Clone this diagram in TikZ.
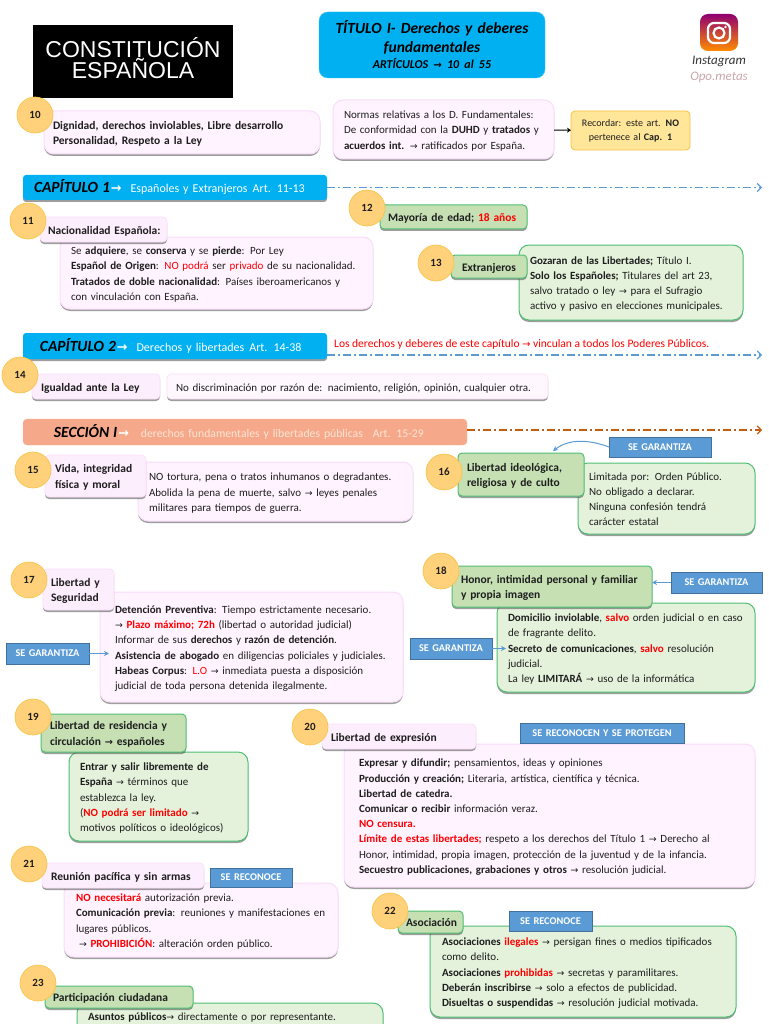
\documentclass[tikz,border=0pt]{standalone}
\usepackage{fontspec}
\setmainfont{Carlito}
\newfontfamily\arfont[Scale=0.85]{DejaVu Sans}
\newfontfamily\headfont{Liberation Sans}
\usetikzlibrary{shadows,arrows.meta,calc}
\definecolor{cyanbox}{HTML}{00B0F0}
\definecolor{pinkfill}{HTML}{FFF3FF}
\definecolor{pinkhead}{HTML}{FDEEFD}
\definecolor{pinkedge}{HTML}{F9DDF9}
\definecolor{greenfill}{HTML}{E4F1DB}
\definecolor{greenhead}{HTML}{C6E0B4}
\definecolor{greenedge}{HTML}{4FBF73}
\definecolor{goldfill}{HTML}{FFE699}
\definecolor{goldedge}{HTML}{F5C242}
\definecolor{seblue}{HTML}{5B9BD5}
\definecolor{seedge}{HTML}{41719C}
\definecolor{salmon}{HTML}{F6A98A}
\definecolor{lineblue}{HTML}{5B9BD5}
\definecolor{lineorange}{HTML}{C55A11}
\definecolor{ink}{HTML}{1E1E1E}
\definecolor{pale}{HTML}{FCE4D6}
\definecolor{opocolor}{HTML}{C9A5AE}
\newcommand\ar{{\arfont →}}
\newcommand\bigar{{\fontsize{15}{16}\selectfont\bfseries\arfont\textcolor{white}{→}}}
\newcommand\B[1]{\textbf{#1}}
\newcommand\R[1]{\textcolor{red}{#1}}
\newcommand\chap[1]{{\fontsize{15.5}{16}\selectfont\bfseries\itshape\textcolor{black}{#1}}}
\newcommand\topstrut{\leavevmode\rule{0pt}{12pt}}
\newcommand\botstrut{\rule[-3pt]{0pt}{3pt}}
\newcommand\bx[8]{%
  \pgfmathsetmacro\bW{#5-#3}\pgfmathsetmacro\bH{#6-#4}%
  \node[anchor=north west,inner sep=0pt,outer sep=0pt,minimum width=\bW pt,minimum height=\bH pt,text width=\bW pt,align=left,#1] (#2) at (#3,#4) {\parindent=0pt\leftskip=#7pt\relax\topstrut #8\botstrut\par};}
\newcommand\bc[7]{%
  \pgfmathsetmacro\bW{#5-#3}\pgfmathsetmacro\bH{#6-#4}%
  \node[anchor=north west,inner sep=0pt,outer sep=0pt,minimum width=\bW pt,minimum height=\bH pt,text width=\bW pt,align=center,#1] (#2) at (#3,#4) {#7};}
\tikzset{
  txt/.style={font=\fontsize{11}{15.2}\selectfont,text=ink},
  head/.style={font=\fontsize{11.5}{15.2}\selectfont\bfseries},
  shad/.style={drop shadow={shadow xshift=0pt,shadow yshift=-2pt,opacity=.55,fill=black!70}},
  pinkmain/.style={txt,fill=pinkfill,draw=pinkedge,line width=1pt,rounded corners=10pt,shad},
  pinkcap/.style={txt,fill=pinkhead,draw=pinkedge,line width=.6pt,rounded corners=4pt,shad},
  greenmain/.style={txt,fill=greenfill,draw=greenedge,line width=1pt,rounded corners=10pt,shad},
  greencap/.style={txt,fill=greenhead,draw=greenedge,line width=1pt,rounded corners=4pt,shad},
  goldbox/.style={font=\fontsize{10}{14}\selectfont,text=ink,fill=goldfill,draw=goldedge,line width=.8pt,rounded corners=4pt},
  sebox/.style={font=\fontsize{10.3}{11}\selectfont\bfseries,text=white,fill=seblue,draw=seedge,line width=.5pt},
  capbox/.style={fill=cyanbox,rounded corners=3pt,shad,text=white,font=\fontsize{12}{14}\selectfont},
  secbox/.style={fill=salmon,draw=salmon!85!white,rounded corners=4pt,text=pale,font=\fontsize{11.7}{14}\selectfont},
  titlebox/.style={fill=cyanbox,draw=cyanbox!80!white,rounded corners=9pt,text=black,font=\fontsize{15.5}{18.5}\selectfont\bfseries\itshape},
  blackbox/.style={fill=black,text=white,font=\headfont\fontsize{23}{22}\selectfont},
  ball/.style={circle,minimum size=36pt,inner sep=0pt,fill=goldfill!80!orange,draw=goldedge,line width=.6pt,text=ink,font=\fontsize{11}{12}\selectfont\bfseries},
  dashblue/.style={draw=lineblue,line width=1.1pt,dash pattern=on 8pt off 3pt on 2pt off 3pt,-{Straight Barb[length=4pt,width=8pt]}},
  dashorange/.style={draw=lineorange,line width=1.1pt,dash pattern=on 8pt off 3pt on 2pt off 3pt,-{Straight Barb[length=4pt,width=8pt]}},
  sewire/.style={draw=lineblue,line width=1pt,-{Stealth[length=5pt,width=5pt]}},
  logotext/.style={font=\itshape\fontsize{13}{14}\selectfont}
}
\begin{document}
\begin{tikzpicture}[x=1pt,y=-1pt]
\useasboundingbox (0,0) rectangle (768,1024);
\clip (0,0) rectangle (768,1024);

% --- header
\bc{blackbox}{cetitle}{33}{25}{233}{98}{CONSTITUCIÓN\\[-1pt]ESPAÑOLA\rule[-6pt]{0pt}{6pt}}
\bc{titlebox}{titulo}{319}{12}{545}{78}{TÍTULO I- Derechos y deberes\\fundamentales\\[-2pt]{\fontsize{12}{13}\selectfont ARTÍCULOS \ar\ 10 al 55}}

% --- Instagram logo
\shade[rounded corners=8pt,top color=purple!75!blue,middle color=magenta!80!red,bottom color=orange!90!yellow] (700,14) rectangle (738,51);
\draw[white,line width=2.2pt,rounded corners=6pt] (708,23) rectangle (730,43);
\draw[white,line width=2.2pt] (719,33) circle (5.5);
\fill[white] (725.5,27) circle (1.4);
\node[logotext,text=black!80] (insta) at (719,61) {Instagram};
\node[logotext,text=opocolor] (opo) at (719,77) {Opo.metas};

% --- art. 10
\bx{pinkmain,head}{b10}{44}{111}{320}{154}{9}{Dignidad, derechos inviolables, Libre desarrollo\\Personalidad, Respeto a la Ley}
\bx{pinkmain}{norm}{333}{100}{554}{159}{11}{Normas relativas a los D. Fundamentales:\\De conformidad con la \B{DUHD} y \B{tratados} y\\\B{acuerdos int.} \ar\ ratificados por España.}
\bc{goldbox}{recor}{571}{111}{690}{150}{Recordar: este art. \B{NO}\\pertenece al \B{Cap. 1}}
\draw[black,line width=1pt,-{Stealth[length=4pt,width=5pt]}] (norm) -- (recor);
\node[ball] (n10) at (35,115) {10};

% --- capitulo 1
\bx{capbox}{cap1}{23}{175}{327}{200}{11}{\chap{CAPÍTULO 1}\hspace{1pt}\bigar\hspace{9pt}Españoles y Extranjeros\hspace{5pt}Art. 11-13}
\coordinate (end1) at (762,187.5);
\draw[dashblue] (cap1.east) -- (end1);

% --- art. 11
\bx{pinkmain}{b11}{60}{237}{373}{309}{11}{Se \B{adquiere}, se \B{conserva} y se \B{pierde}: Por Ley\\\B{Español de Origen}: \R{NO podrá} ser \R{privado} de su nacionalidad.\\\B{Tratados de doble nacionalidad}: Países iberoamericanos y\\con vinculación con España.}
\bx{pinkcap,head}{h11}{40}{217}{167}{242}{8}{Nacionalidad Española:}
\node[ball] (n11) at (28,221) {11};

% --- art. 12
\bx{greencap,head}{b12}{380}{205}{527}{229}{8}{Mayoría de edad; \R{18 años}}
\node[ball] (n12) at (367,208) {12};

% --- art. 13
\bx{greenmain}{b13}{519}{245}{743}{320}{11}{\B{Gozaran de las Libertades;} Título I.\\\B{Solo los Españoles;} Titulares del art 23,\\salvo tratado o ley \ar\ para el Sufragio\\activo y pasivo en elecciones municipales.}
\bc{greencap,head}{h13}{451}{255}{527}{278}{\topstrut Extranjeros\botstrut}
\node[ball] (n13) at (436,263) {13};

% --- capitulo 2
\bx{capbox}{cap2}{23}{333}{327}{359}{17}{\chap{CAPÍTULO 2}\hspace{1pt}\bigar\hspace{9pt}Derechos y libertades\hspace{5pt}Art. 14-38}
\node[anchor=west,inner sep=0pt,font=\fontsize{11.5}{12}\selectfont,text=red] (aviso) at (334,344) {Los derechos y deberes de este capítulo \ar\ vinculan a todos los Poderes Públicos.};
\coordinate (start2) at (327,355);
\coordinate (end2) at (762,355);
\draw[dashblue] (start2) -- (end2);

% --- art. 14
\bx{pinkcap,head}{h14}{32}{374}{160}{399}{9}{Igualdad ante la Ley}
\bx{pinkcap,fill=white!60!pinkhead}{b14}{167}{374}{548}{399}{9}{No discriminación por razón de: nacimiento, religión, opinión, cualquier otra.}
\node[ball] (n14) at (20,375) {14};

% --- seccion I
\bx{secbox}{sec1}{23}{419}{467}{445}{31}{\chap{SECCIÓN I}\hspace{1pt}\bigar\hspace{12pt}derechos fundamentales y libertades públicas\hspace{10pt}Art. 15-29}
\coordinate (start3) at (467,430);
\coordinate (end3) at (762,430);
\draw[dashorange] (start3) -- (end3);

% --- art. 15
\bx{pinkmain}{b15}{138}{462}{413}{521}{11}{NO tortura, pena o tratos inhumanos o degradantes.\\Abolida la pena de muerte, salvo \ar\ leyes penales\\militares para tiempos de guerra.}
\bx{pinkcap,head}{h15}{45}{455}{146}{497}{10}{Vida, integridad\\física y moral}
\node[ball] (n15) at (33,470) {15};

% --- art. 16
\bx{greenmain}{b16}{578}{463}{755}{534}{11}{Limitada por: Orden Público.\\No obligado a declarar.\\Ninguna confesión tendrá\\carácter estatal}
\bx{greencap,head}{h16}{458}{453}{584}{496}{9}{Libertad ideológica,\\religiosa y de culto}
\node[ball] (n16) at (444,472) {16};
\bc{sebox}{sg16}{609}{437}{711}{457}{SE GARANTIZA}
\coordinate (tip16) at (553,451);
\draw[sewire] (sg16.west) .. controls (590,440) and (570,438) .. (tip16);

% --- art. 17
\bx{pinkmain}{b17}{100}{592}{403}{702}{15}{\B{Detención Preventiva}: Tiempo estrictamente necesario.\\\ar\ \R{\B{Plazo máximo; 72h}} (libertad o autoridad judicial)\\Informar de sus \B{derechos} y \B{razón de detención}.\\\B{Asistencia de abogado} en diligencias policiales y judiciales.\\\B{Habeas Corpus}: \R{L.O} \ar\ inmediata puesta a disposición\\judicial de toda persona detenida ilegalmente.}
\bx{pinkcap,head}{h17}{43}{569}{114}{610}{8}{Libertad y\\Seguridad}
\node[ball] (n17) at (29,580) {17};
\bc{sebox}{sg17}{6}{643}{89}{664}{SE GARANTIZA}
\draw[sewire,shorten >=-9pt] (sg17.east) -- (b17.west |- sg17.east);

% --- art. 18
\bx{greenmain}{b18}{497}{603}{755}{692}{11}{\B{Domicilio inviolable}, \R{\B{salvo}} orden judicial o en caso\\de fragrante delito.\\\B{Secreto de comunicaciones}, \R{\B{salvo}} resolución\\judicial.\\La ley \B{LIMITARÁ} \ar\ uso de la informática}
\bx{greencap,head}{h18}{452}{566}{652}{607}{9}{Honor, intimidad personal y familiar\\y propia imagen}
\node[ball] (n18) at (441,571) {18};
\bc{sebox}{sg18a}{671}{572}{762}{593}{SE GARANTIZA}
\draw[sewire] (sg18a.west) -- (h18.east |- sg18a.west);
\bc{sebox}{sg18b}{410}{638}{492}{659}{SE GARANTIZA}
\draw[sewire,shorten >=-9pt] (sg18b.east) -- (b18.west |- sg18b.east);

% --- art. 19
\bx{greenmain}{b19}{69}{752}{248}{841}{11}{\B{Entrar y salir libremente de}\\\B{España} \ar\ términos que\\establezca la ley.\\(\R{\B{NO podrá ser limitado}} \ar\\motivos políticos o ideológicos)}
\bx{greencap,head}{h19}{41}{714}{186}{752}{9}{Libertad de residencia y\\circulación \ar\ españoles}
\node[ball] (n19) at (33,717) {19};

% --- art. 20
\bx{pinkmain}{b20}{344}{744}{755}{887}{15}{\B{Expresar y difundir;} pensamientos, ideas y opiniones\\\B{Producción y creación;} Literaria, artística, científica y técnica.\\\B{Libertad de catedra.}\\\B{Comunicar o recibir} información veraz.\\\R{\B{NO censura.}}\\\R{\B{Límite de estas libertades;}} respeto a los derechos del Título 1 \ar\ Derecho al\\Honor, intimidad, propia imagen, protección de la juventud y de la infancia.\\\B{Secuestro publicaciones, grabaciones y otros} \ar\ resolución judicial.}
\bx{pinkcap,head}{h20}{322}{724}{476}{749}{9}{Libertad de expresión}
\node[ball] (n20) at (310,727) {20};
\bc{sebox}{sg20}{520}{723}{684}{743}{SE RECONOCEN Y SE PROTEGEN}

% --- art. 21
\bx{pinkmain}{b21}{64}{883}{338}{957}{12}{\R{\B{NO necesitará}} autorización previa.\\\B{Comunicación previa}: reuniones y manifestaciones en\\lugares públicos.\\\hspace*{3pt}\ar\ \R{\B{PROHIBICIÓN}}: alteración orden público.}
\bx{pinkcap,head}{h21}{42}{863}{204}{888}{9}{Reunión pacífica y sin armas}
\node[ball] (n21) at (29,864) {21};
\bc{sebox}{sg21}{210}{868}{292}{887}{SE RECONOCE}

% --- art. 22
\bx{greenmain}{b22}{430}{926}{736}{1017}{12}{\B{Asociaciones} \R{\B{ilegales}} \ar\ persigan fines o medios tipificados\\como delito.\\\B{Asociaciones} \R{\B{prohibidas}} \ar\ secretas y paramilitares.\\\B{Deberán inscribirse} \ar\ solo a efectos de publicidad.\\\B{Disueltas o suspendidas} \ar\ resolución judicial motivada.}
\bx{greencap,head}{h22}{398}{911}{463}{933}{8}{Asociación}
\node[ball] (n22) at (390,911) {22};
\bc{sebox}{sg22}{509}{911}{592}{931}{SE RECONOCE}

% --- art. 23
\bx{greenmain}{b23}{77}{1003}{383}{1044}{11}{\B{Asuntos públicos}\ar\ directamente o por representante.\\\mbox{}}
\bx{greencap,head}{h23}{45}{986}{193}{1008}{8}{Participación ciudadana}
\node[ball] (n23) at (38,983) {23};
\end{tikzpicture}
\end{document}
